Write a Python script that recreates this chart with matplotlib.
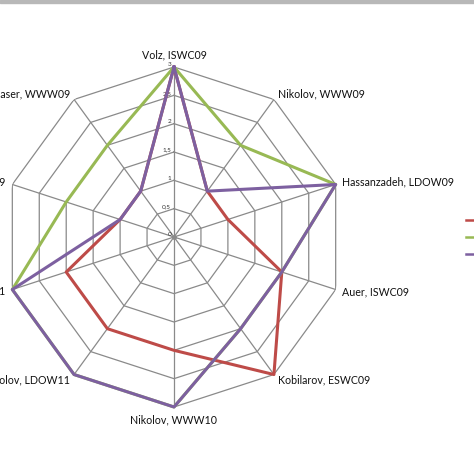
import numpy as np
import matplotlib
matplotlib.use("Agg")
import matplotlib.pyplot as plt
from matplotlib.patches import Rectangle

plt.rcParams['font.family'] = ['Lato', 'DejaVu Sans']

# Datos (escala 0..3)
categorias = ["Volz, ISWC09", "Nikolov, WWW09", "Hassanzadeh, LDOW09", "Auer, ISWC09",
              "Kobilarov, ESWC09", "Nikolov, WWW10", "Nikolov, LDOW11", "Ngonga, IJCAI11",
              "Raimond, ISMIR09", "Glaser, WWW09"]
serie_roja = [3, 1, 1, 2, 3, 2, 2, 2, 1, 1]
serie_verde = [3, 2, 3, 2, 2, 3, 3, 3, 2, 2]
serie_morada = [3, 1, 3, 2, 2, 3, 3, 3, 1, 1]
nombres_series = ["Series 1", "Series 2", "Series 3"]
ticks_r = [0, 0.5, 1, 1.5, 2, 2.5, 3]
etiquetas_r = ["0", "0,5", "1", "1,5", "2", "2,5", "3"]

COLORES = ["#BE4B48", "#98B954", "#7D60A0"]
GRIS = "#8a8a8a"

n = len(categorias)
angulos = np.arange(n) * 2 * np.pi / n
ang_cerrado = np.append(angulos, angulos[0])

fig = plt.figure(figsize=(4.74, 4.74), dpi=100)
W = 474.0
cx, cy, R = 174.0, 237.0, 170.0
ax = fig.add_axes([(cx - R) / W, (W - cy - R) / W, 2 * R / W, 2 * R / W], polar=True)
ax.set_theta_offset(np.pi / 2)
ax.set_theta_direction(-1)
ax.set_ylim(0, 3)
ax.grid(False)
ax.spines['polar'].set_visible(False)
ax.set_xticks([])
ax.set_yticks([])
ax.set_facecolor('none')

# rejilla poligonal
for r in ticks_r[1:]:
    ax.plot(ang_cerrado, [r] * (n + 1), color=GRIS, lw=0.9, zorder=1)
for a in angulos:
    ax.plot([a, a], [0, 3], color=GRIS, lw=0.9, zorder=1)
ax.plot([0], [0], 'o', color=GRIS, ms=2.5, zorder=1)

for r, txt in zip(ticks_r, etiquetas_r):
    ax.annotate(txt, xy=(0, r), xytext=(-2, 1.5), textcoords='offset points',
                ha='right', va='center', fontsize=4.6, color='#333333')

# series
lineas = []
for vals, col in zip([serie_roja, serie_verde, serie_morada], COLORES):
    v = vals + vals[:1]
    l, = ax.plot(ang_cerrado, v, color=col, lw=2.2, zorder=3, clip_on=False)
    lineas.append(l)

# etiquetas de categorías
for a, nombre in zip(angulos, categorias):
    s, c = np.sin(a), np.cos(a)
    if abs(s) < 0.1:
        ha = 'center'
    elif s > 0:
        ha = 'left'
    else:
        ha = 'right'
    if c > 0.9:
        va = 'bottom'
    elif c < -0.9:
        va = 'top'
    else:
        va = 'center'
    ax.annotate(nombre, xy=(a, 3), xytext=(5 * s, 5 * c), textcoords='offset points',
                ha=ha, va=va, fontsize=7.7, color='#111111', annotation_clip=False)

fig.legend(lineas, nombres_series, loc='center left', bbox_to_anchor=(466 / W, (W - 237) / W),
           frameon=False, fontsize=7.6, handlelength=2.2, labelspacing=0.55, borderpad=0,
           borderaxespad=0)
for lh in fig.legends[0].get_lines():
    lh.set_linewidth(1.8)

fig.patches.append(Rectangle((0, (W - 3) / W), 1, 3 / W, transform=fig.transFigure,
                             color='#b8b8b8', zorder=0))

fig.savefig("out.png", dpi=100)
